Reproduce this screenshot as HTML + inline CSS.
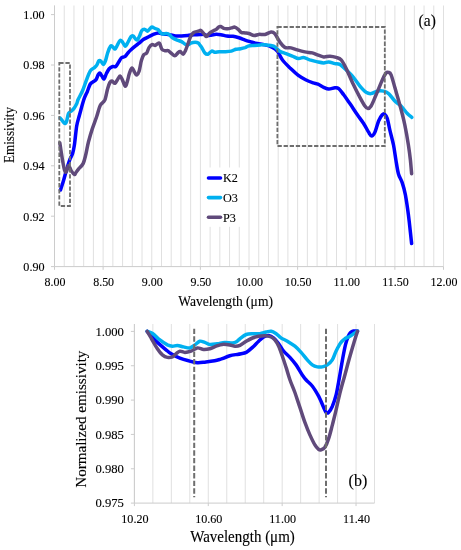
<!DOCTYPE html><html><head><meta charset="utf-8"><title>Emissivity</title><style>html,body{margin:0;padding:0;background:#fff}svg{display:block}text{font-family:"Liberation Serif",serif;fill:#000;stroke:#000;stroke-width:0.12px}</style></head><body>
<svg width="461" height="550" viewBox="0 0 461 550">
<rect width="461" height="550" fill="#fff"/>
<path d="M54.50,5.5 V266.6 M64.22,5.5 V266.6 M73.95,5.5 V266.6 M83.68,5.5 V266.6 M93.40,5.5 V266.6 M103.12,5.5 V266.6 M112.85,5.5 V266.6 M122.57,5.5 V266.6 M132.30,5.5 V266.6 M142.03,5.5 V266.6 M151.75,5.5 V266.6 M161.47,5.5 V266.6 M171.20,5.5 V266.6 M180.93,5.5 V266.6 M190.65,5.5 V266.6 M200.38,5.5 V266.6 M210.10,5.5 V266.6 M219.82,5.5 V266.6 M229.55,5.5 V266.6 M239.28,5.5 V266.6 M249.00,5.5 V266.6 M258.72,5.5 V266.6 M268.45,5.5 V266.6 M278.18,5.5 V266.6 M287.90,5.5 V266.6 M297.62,5.5 V266.6 M307.35,5.5 V266.6 M317.07,5.5 V266.6 M326.80,5.5 V266.6 M336.53,5.5 V266.6 M346.25,5.5 V266.6 M355.97,5.5 V266.6 M365.70,5.5 V266.6 M375.43,5.5 V266.6 M385.15,5.5 V266.6 M394.88,5.5 V266.6 M404.60,5.5 V266.6 M414.32,5.5 V266.6 M424.05,5.5 V266.6 M433.78,5.5 V266.6 M443.50,5.5 V266.6" stroke="#e0e0e0" stroke-width="1" fill="none"/>
<path d="M54.50,5.5 V266.6 M54.50,266.6 H443.50" stroke="#cccccc" stroke-width="1" fill="none"/>
<text transform="translate(44.60,18.90) scale(0.935,1)" font-size="13" text-anchor="end">1.00</text>
<text transform="translate(44.60,69.30) scale(0.935,1)" font-size="13" text-anchor="end">0.98</text>
<text transform="translate(44.60,119.70) scale(0.935,1)" font-size="13" text-anchor="end">0.96</text>
<text transform="translate(44.60,170.10) scale(0.935,1)" font-size="13" text-anchor="end">0.94</text>
<text transform="translate(44.60,220.50) scale(0.935,1)" font-size="13" text-anchor="end">0.92</text>
<text transform="translate(44.60,270.90) scale(0.935,1)" font-size="13" text-anchor="end">0.90</text>
<text transform="translate(55.00,286.40) scale(0.920,1)" font-size="13" text-anchor="middle">8.00</text>
<text transform="translate(103.62,286.40) scale(0.920,1)" font-size="13" text-anchor="middle">8.50</text>
<text transform="translate(152.25,286.40) scale(0.920,1)" font-size="13" text-anchor="middle">9.00</text>
<text transform="translate(200.88,286.40) scale(0.920,1)" font-size="13" text-anchor="middle">9.50</text>
<text transform="translate(249.50,286.40) scale(0.920,1)" font-size="13" text-anchor="middle">10.00</text>
<text transform="translate(298.12,286.40) scale(0.920,1)" font-size="13" text-anchor="middle">10.50</text>
<text transform="translate(346.75,286.40) scale(0.920,1)" font-size="13" text-anchor="middle">11.00</text>
<text transform="translate(395.38,286.40) scale(0.920,1)" font-size="13" text-anchor="middle">11.50</text>
<text transform="translate(444.00,286.40) scale(0.920,1)" font-size="13" text-anchor="middle">12.00</text>
<path d="M51.0,14.60 H54.5 M51.0,65.00 H54.5 M51.0,115.40 H54.5 M51.0,165.80 H54.5 M51.0,216.20 H54.5 M51.0,266.60 H54.5 M54.50,266.6 V269.8 M103.12,266.6 V269.8 M151.75,266.6 V269.8 M200.38,266.6 V269.8 M249.00,266.6 V269.8 M297.62,266.6 V269.8 M346.25,266.6 V269.8 M394.88,266.6 V269.8 M443.50,266.6 V269.8" stroke="#cccccc" stroke-width="1" fill="none"/>
<path d="M60.5,190.0C61.0,188.3 62.6,183.8 63.7,180.0C64.8,176.2 66.2,170.8 67.3,167.3C68.3,163.8 69.1,161.4 70.0,159.1C70.9,156.8 71.9,155.9 72.6,153.6C73.3,151.2 73.7,149.6 74.4,145.0C75.1,140.4 75.9,131.0 76.7,126.0C77.5,121.0 78.3,119.3 79.5,115.0C80.7,110.7 82.4,104.0 83.7,100.0C85.0,96.0 86.3,94.0 87.4,91.3C88.5,88.6 89.3,85.6 90.3,84.0C91.3,82.4 92.2,82.5 93.2,81.8C94.2,81.1 95.2,80.8 96.1,79.6C96.9,78.4 97.6,75.6 98.3,74.5C99.0,73.4 99.4,72.8 100.0,73.1C100.6,73.3 101.2,75.0 101.9,76.0C102.6,77.0 103.4,79.3 104.1,78.9C104.8,78.5 105.4,75.5 106.3,73.8C107.2,72.1 108.1,69.9 109.2,68.7C110.3,67.5 111.7,66.9 112.8,66.5C113.9,66.1 114.7,67.2 115.7,66.5C116.7,65.8 117.6,63.7 118.6,62.2C119.6,60.8 120.4,58.8 121.5,57.8C122.6,56.8 124.1,57.2 125.2,56.4C126.3,55.5 127.1,53.8 128.1,52.7C129.1,51.6 129.9,50.8 131.0,49.8C132.1,48.8 133.6,47.5 134.9,46.4C136.2,45.3 137.6,44.3 139.1,43.1C140.6,41.9 142.2,40.3 143.7,39.3C145.2,38.3 146.7,37.8 148.2,37.0C149.7,36.2 151.2,35.4 152.8,34.7C154.5,34.0 156.3,33.0 158.1,32.9C159.9,32.8 161.5,33.7 163.4,34.0C165.3,34.3 167.5,34.4 169.5,34.7C171.5,35.0 173.6,35.8 175.6,36.0C177.6,36.2 179.6,36.1 181.6,36.0C183.6,35.9 185.7,35.7 187.7,35.5C189.7,35.3 191.8,34.9 193.8,34.7C195.9,34.6 198.3,34.7 200.0,34.6C201.7,34.5 202.9,34.2 204.1,34.4C205.3,34.5 206.1,35.4 207.1,35.5C208.1,35.6 208.9,35.5 210.2,35.3C211.5,35.1 212.9,34.5 214.7,34.4C216.5,34.3 218.8,34.4 220.8,34.7C222.8,35.0 224.9,35.7 226.9,36.0C228.9,36.3 231.0,36.0 233.0,36.3C235.0,36.6 237.0,37.2 239.0,37.8C241.0,38.4 243.1,39.4 245.1,40.1C247.1,40.8 249.2,41.4 251.2,42.0C253.2,42.6 255.0,43.0 257.3,43.5C259.6,44.0 262.5,44.2 265.0,44.9C267.5,45.5 270.2,46.3 272.3,47.4C274.4,48.5 275.6,49.1 277.3,51.2C279.0,53.3 280.3,57.1 282.5,60.0C284.7,62.9 287.8,65.8 290.4,68.3C293.0,70.8 295.5,73.3 298.0,75.2C300.5,77.1 303.1,78.5 305.6,79.8C308.1,81.1 311.0,82.1 313.1,82.8C315.2,83.5 316.2,83.5 318.0,84.2C319.8,85.0 321.9,86.5 323.7,87.3C325.5,88.1 326.8,89.0 328.7,89.1C330.6,89.2 333.2,87.9 334.9,87.8C336.6,87.7 337.2,87.4 338.7,88.6C340.2,89.8 341.8,92.3 343.7,94.8C345.6,97.3 347.6,100.3 349.9,103.6C352.2,106.9 355.1,111.5 357.4,114.8C359.7,118.1 361.7,120.6 363.6,123.5C365.5,126.4 367.3,130.1 368.6,132.2C369.9,134.3 370.6,136.0 371.6,136.0C372.7,136.0 373.7,134.7 374.9,132.2C376.1,129.7 377.4,123.9 378.6,121.0C379.8,118.1 381.3,115.9 382.3,114.8C383.3,113.7 384.0,113.7 384.8,114.3C385.6,114.9 386.5,115.9 387.3,118.5C388.1,121.1 388.8,125.4 389.8,129.8C390.8,134.2 392.5,140.0 393.5,145.0C394.5,150.0 395.1,155.2 395.9,160.0C396.7,164.8 397.4,170.0 398.4,173.7C399.4,177.4 400.9,178.9 402.1,182.4C403.3,185.9 404.3,189.5 405.4,194.9C406.4,200.3 407.6,208.6 408.4,214.8C409.2,221.0 409.9,227.5 410.4,232.3C410.9,237.1 411.4,241.6 411.6,243.5" stroke="#0000FF" stroke-width="3.5" fill="none" stroke-linecap="round" stroke-linejoin="round"/>
<path d="M60.2,118.0C60.7,118.6 62.2,120.9 63.1,121.8C64.0,122.7 64.7,123.8 65.3,123.6C65.9,123.4 66.2,122.6 66.7,120.9C67.2,119.2 67.7,115.3 68.5,113.6C69.3,111.9 70.4,111.8 71.3,110.9C72.2,110.0 73.1,109.6 74.0,108.4C74.9,107.2 76.0,105.2 76.7,103.8C77.4,102.4 77.0,102.1 77.9,100.0C78.8,97.9 80.8,94.7 82.3,91.3C83.8,87.9 85.3,83.0 86.6,79.6C87.9,76.2 89.1,72.8 90.3,70.9C91.5,69.0 92.8,69.0 93.9,68.0C95.0,67.0 96.0,66.3 96.8,65.1C97.6,63.9 98.3,61.3 99.0,60.7C99.7,60.1 100.5,60.9 101.2,61.5C101.9,62.1 102.7,64.5 103.4,64.4C104.1,64.3 104.8,62.7 105.5,60.7C106.2,58.8 106.9,55.1 107.7,52.7C108.5,50.3 109.8,47.2 110.6,46.2C111.4,45.2 112.1,46.4 112.8,46.9C113.5,47.4 114.3,49.3 115.0,49.1C115.7,48.9 116.4,47.0 117.2,45.5C118.0,44.0 119.2,41.0 120.1,40.4C120.9,39.8 121.4,40.8 122.3,41.8C123.2,42.8 124.3,46.0 125.2,46.2C126.1,46.5 126.4,44.9 127.4,43.3C128.4,41.7 130.0,37.9 131.0,36.7C132.0,35.5 132.2,35.5 133.2,36.1C134.2,36.7 135.8,40.1 136.8,40.1C137.8,40.1 138.6,37.9 139.4,36.3C140.2,34.7 140.9,31.6 141.8,30.5C142.7,29.4 144.0,29.3 144.9,29.4C145.8,29.5 146.7,31.3 147.5,31.2C148.3,31.1 148.9,29.7 149.7,29.0C150.4,28.3 151.1,27.2 152.0,27.1C152.9,27.0 154.1,28.1 155.1,28.5C156.1,28.9 157.2,28.9 158.1,29.6C159.0,30.3 159.7,31.8 160.4,32.5C161.2,33.2 161.6,33.8 162.6,34.0C163.6,34.2 165.2,33.4 166.4,33.5C167.6,33.6 168.5,34.0 169.5,34.7C170.5,35.4 171.2,36.9 172.5,37.8C173.8,38.7 175.6,39.5 177.1,40.1C178.6,40.7 180.2,40.9 181.6,41.6C183.0,42.3 184.2,43.8 185.4,44.3C186.6,44.8 187.6,44.7 188.5,44.5C189.4,44.3 189.6,43.5 190.7,43.1C191.8,42.7 194.0,42.3 195.3,42.3C196.6,42.3 197.5,42.6 198.3,43.1C199.1,43.6 199.4,44.5 200.0,45.2C200.6,46.0 201.0,46.3 201.8,47.6C202.6,48.9 203.9,51.9 204.9,53.0C205.9,54.1 206.8,54.5 207.9,54.2C209.0,53.9 210.6,51.4 211.7,51.1C212.8,50.8 213.4,52.1 214.7,52.2C216.0,52.3 217.5,51.8 219.3,51.7C221.1,51.6 223.4,51.8 225.4,51.7C227.4,51.6 229.6,51.5 231.4,51.1C233.2,50.7 234.5,49.6 236.0,49.2C237.5,48.8 239.1,49.0 240.6,48.7C242.1,48.4 243.8,48.0 245.1,47.6C246.3,47.2 246.6,46.5 248.1,46.1C249.6,45.7 252.2,45.6 254.2,45.4C256.2,45.2 258.5,45.0 260.3,44.9C262.1,44.8 262.8,44.6 265.0,44.8C267.2,45.0 271.1,45.1 273.6,46.2C276.1,47.3 277.7,50.0 279.8,51.2C281.9,52.4 283.9,52.8 286.0,53.6C288.1,54.4 290.2,55.3 292.3,56.1C294.4,56.9 296.6,58.4 298.5,58.6C300.4,58.8 301.6,57.2 303.5,57.4C305.4,57.6 307.5,59.1 309.8,59.9C312.1,60.6 315.2,61.4 317.5,61.9C319.8,62.4 321.8,62.9 323.7,62.9C325.6,62.9 326.8,61.8 328.7,61.9C330.6,62.0 333.0,63.2 334.9,63.6C336.8,64.0 338.0,63.4 339.9,64.4C341.8,65.5 344.1,68.0 346.2,69.9C348.3,71.9 350.1,73.4 352.4,76.1C354.7,78.8 357.6,83.4 359.9,86.1C362.2,88.8 364.2,91.0 366.1,92.3C368.0,93.5 369.2,93.8 371.1,93.6C373.0,93.4 375.2,91.5 377.3,91.1C379.4,90.7 381.7,90.7 383.6,91.1C385.5,91.5 386.7,91.9 388.6,93.6C390.5,95.2 392.7,98.9 394.8,101.0C396.9,103.1 398.9,103.9 401.0,106.0C403.1,108.1 405.5,111.6 407.3,113.5C409.1,115.4 411.1,116.7 411.8,117.3" stroke="#00B0F0" stroke-width="3.5" fill="none" stroke-linecap="round" stroke-linejoin="round"/>
<path d="M59.8,142.7C60.2,145.3 61.4,153.6 62.2,158.2C63.0,162.8 63.8,167.7 64.5,170.0C65.2,172.3 65.7,172.6 66.4,171.8C67.1,171.1 67.7,165.7 68.5,165.5C69.3,165.3 70.3,169.4 71.3,170.9C72.3,172.4 73.7,174.2 74.4,174.5C75.2,174.8 75.1,173.6 75.8,172.7C76.5,171.8 77.3,170.6 78.5,169.1C79.7,167.6 81.9,166.0 83.1,163.6C84.3,161.2 84.9,158.1 85.8,154.5C86.7,150.9 87.4,146.0 88.5,141.8C89.6,137.6 90.8,133.3 92.2,129.1C93.6,124.9 95.4,120.4 96.7,116.5C98.0,112.6 98.9,108.2 100.2,105.5C101.5,102.8 103.5,102.8 104.8,100.0C106.0,97.2 106.8,91.3 107.7,88.4C108.6,85.5 109.2,83.7 109.9,82.5C110.6,81.3 111.2,81.0 112.1,81.1C112.9,81.2 114.0,83.7 115.0,83.3C116.0,82.9 117.1,80.1 117.9,78.9C118.8,77.7 119.4,75.9 120.1,76.0C120.8,76.1 121.4,77.9 122.3,79.6C123.2,81.3 124.3,86.0 125.2,86.2C126.1,86.5 126.7,83.3 127.4,81.1C128.1,78.9 128.7,75.3 129.5,73.1C130.3,70.9 131.1,68.0 132.0,68.0C132.9,68.0 134.1,71.7 134.9,72.9C135.7,74.1 136.1,75.3 136.8,75.0C137.5,74.7 138.3,73.6 139.1,71.2C139.9,68.8 140.6,63.3 141.4,60.6C142.2,57.9 142.8,56.1 143.7,54.8C144.6,53.5 145.8,54.2 146.7,53.0C147.6,51.8 148.1,49.0 149.0,47.6C149.9,46.2 151.0,45.0 152.0,44.6C153.0,44.2 154.2,45.5 155.1,45.4C156.0,45.3 156.6,44.1 157.3,43.8C158.1,43.5 158.8,42.6 159.6,43.5C160.4,44.4 161.0,48.0 161.9,49.2C162.8,50.4 163.9,50.5 164.9,50.7C165.9,51.0 167.0,50.3 168.0,50.7C169.0,51.1 169.9,52.2 171.0,53.0C172.1,53.8 173.7,55.7 174.8,55.7C175.9,55.7 176.9,53.7 177.8,53.0C178.7,52.3 179.2,51.2 180.1,51.4C181.0,51.6 182.2,54.3 183.1,54.2C184.0,54.1 184.5,52.7 185.4,50.7C186.3,48.7 187.6,44.7 188.5,42.3C189.4,39.9 189.8,37.9 190.7,36.3C191.6,34.7 192.7,33.3 193.8,32.5C195.0,31.7 196.6,31.7 197.6,31.4C198.6,31.1 199.5,30.8 200.0,30.6C200.5,30.5 200.2,30.1 200.8,30.5C201.4,30.9 202.5,32.2 203.4,33.2C204.3,34.2 205.4,36.6 206.4,36.6C207.4,36.6 208.3,34.2 209.4,33.2C210.5,32.2 212.0,31.5 213.2,30.9C214.3,30.3 215.4,30.0 216.3,29.4C217.2,28.8 217.8,27.6 218.5,27.1C219.2,26.6 219.9,26.3 220.8,26.5C221.7,26.7 222.7,28.0 223.8,28.4C224.9,28.8 226.3,28.8 227.6,28.7C228.9,28.6 230.2,28.2 231.4,27.9C232.6,27.6 233.7,26.9 234.8,27.1C236.0,27.4 237.2,28.5 238.3,29.4C239.4,30.3 240.2,31.9 241.3,32.5C242.4,33.1 243.8,32.7 245.1,32.9C246.4,33.1 247.4,33.1 248.9,33.5C250.4,33.9 252.5,35.4 254.2,35.5C255.8,35.6 257.0,34.6 258.8,34.4C260.6,34.2 262.9,34.9 265.0,34.5C267.1,34.1 269.5,32.1 271.1,32.0C272.7,31.9 273.4,32.1 274.8,33.7C276.2,35.4 278.1,39.6 279.8,41.9C281.5,44.2 282.9,46.4 284.8,47.4C286.7,48.4 288.9,47.5 291.0,47.9C293.1,48.3 295.0,49.2 297.3,49.9C299.6,50.6 302.3,51.4 304.8,51.9C307.3,52.4 310.2,52.4 312.3,52.9C314.4,53.4 315.6,54.2 317.5,54.9C319.4,55.6 321.6,56.7 323.7,56.9C325.8,57.1 327.9,56.1 330.0,56.2C332.1,56.3 334.3,56.8 336.2,57.4C338.1,58.0 339.5,58.0 341.2,59.9C342.9,61.8 344.3,64.8 346.2,68.6C348.1,72.3 350.1,77.6 352.4,82.4C354.7,87.2 357.8,93.4 359.9,97.3C362.0,101.2 363.6,104.1 364.9,106.0C366.2,107.9 366.9,108.5 367.9,108.5C368.9,108.5 369.7,108.3 371.1,106.0C372.5,103.7 374.2,99.1 376.1,94.8C378.0,90.5 380.6,83.6 382.3,79.9C384.0,76.2 385.1,74.2 386.1,72.9C387.2,71.7 387.8,72.1 388.6,72.4C389.4,72.7 390.1,72.4 391.1,74.9C392.1,77.4 393.4,82.3 394.8,87.3C396.2,92.3 398.1,98.5 399.8,104.8C401.5,111.0 403.4,118.1 404.8,124.8C406.2,131.5 407.5,139.1 408.4,145.0C409.3,150.9 409.9,155.2 410.4,160.0C410.9,164.8 411.4,171.4 411.6,173.7" stroke="#604A7B" stroke-width="3.5" fill="none" stroke-linecap="round" stroke-linejoin="round"/>
<rect x="59.3" y="63" width="10.7" height="143" fill="none" stroke="#6e6e6e" stroke-width="1.8" stroke-dasharray="4.3 1.8"/>
<rect x="277.4" y="27" width="107.4" height="119" fill="none" stroke="#6e6e6e" stroke-width="1.8" stroke-dasharray="4.3 1.8"/>
<rect x="203" y="167.5" width="40" height="59.3" fill="#fff"/>
<path d="M208.5,178.0 H220.5" stroke="#0000FF" stroke-width="3.6" stroke-linecap="round"/>
<text transform="translate(222.90,182.30) scale(0.920,1)" font-size="13.3" text-anchor="start">K2</text>
<path d="M208.5,197.6 H220.5" stroke="#00B0F0" stroke-width="3.6" stroke-linecap="round"/>
<text transform="translate(222.90,201.90) scale(0.920,1)" font-size="13.3" text-anchor="start">O3</text>
<path d="M208.5,217.3 H220.5" stroke="#604A7B" stroke-width="3.6" stroke-linecap="round"/>
<text transform="translate(222.90,221.60) scale(0.920,1)" font-size="13.3" text-anchor="start">P3</text>
<text transform="translate(418.60,25.50) scale(0.970,1)" font-size="16" text-anchor="start">(a)</text>
<text transform="translate(225.60,306.00) scale(0.905,1)" font-size="15" text-anchor="middle">Wavelength (μm)</text>
<text transform="translate(13.75,135.00) rotate(-90) scale(0.890,1)" font-size="14.7" text-anchor="middle">Emissivity</text>
<path d="M134.40,324.0 V503.1 M152.87,324.0 V503.1 M171.34,324.0 V503.1 M189.81,324.0 V503.1 M208.28,324.0 V503.1 M226.75,324.0 V503.1 M245.22,324.0 V503.1 M263.69,324.0 V503.1 M282.16,324.0 V503.1 M300.63,324.0 V503.1 M319.10,324.0 V503.1 M337.57,324.0 V503.1 M356.04,324.0 V503.1 M374.51,324.0 V503.1" stroke="#e0e0e0" stroke-width="1" fill="none"/>
<path d="M134.40,324.0 V503.1 M134.40,503.1 H374.51" stroke="#cccccc" stroke-width="1" fill="none"/>
<text transform="translate(123.90,335.60) scale(0.960,1)" font-size="13.2" text-anchor="end">1.000</text>
<text transform="translate(123.90,369.94) scale(0.960,1)" font-size="13.2" text-anchor="end">0.995</text>
<text transform="translate(123.90,404.28) scale(0.960,1)" font-size="13.2" text-anchor="end">0.990</text>
<text transform="translate(123.90,438.62) scale(0.960,1)" font-size="13.2" text-anchor="end">0.985</text>
<text transform="translate(123.90,472.96) scale(0.960,1)" font-size="13.2" text-anchor="end">0.980</text>
<text transform="translate(123.90,507.30) scale(0.960,1)" font-size="13.2" text-anchor="end">0.975</text>
<text transform="translate(134.90,523.10) scale(0.920,1)" font-size="13.2" text-anchor="middle">10.20</text>
<text transform="translate(208.78,523.10) scale(0.920,1)" font-size="13.2" text-anchor="middle">10.60</text>
<text transform="translate(282.66,523.10) scale(0.920,1)" font-size="13.2" text-anchor="middle">11.00</text>
<text transform="translate(356.54,523.10) scale(0.920,1)" font-size="13.2" text-anchor="middle">11.40</text>
<path d="M130.9,331.40 H134.4 M130.9,365.74 H134.4 M130.9,400.08 H134.4 M130.9,434.42 H134.4 M130.9,468.76 H134.4 M130.9,503.10 H134.4 M134.40,503.1 V506.1 M208.28,503.1 V506.1 M282.16,503.1 V506.1 M356.04,503.1 V506.1" stroke="#cccccc" stroke-width="1" fill="none"/>
<path d="M147.2,331.4C147.7,332.0 148.7,333.4 150.4,335.2C152.1,337.0 154.8,340.0 157.4,342.4C160.0,344.8 163.7,347.9 166.0,349.8C168.3,351.7 168.9,352.4 171.2,353.8C173.5,355.2 177.0,357.0 179.9,358.2C182.8,359.4 185.7,360.1 188.6,360.8C191.5,361.6 194.4,362.5 197.3,362.7C200.2,362.9 203.0,362.2 205.9,361.9C208.8,361.6 212.2,361.2 214.6,360.8C216.9,360.4 218.7,359.8 220.0,359.4C221.3,359.0 220.7,359.3 222.3,358.7C223.9,358.1 227.3,356.4 229.8,355.7C232.3,355.0 235.4,354.7 237.3,354.4C239.2,354.1 239.7,354.0 241.2,353.7C242.7,353.4 244.3,353.4 246.2,352.4C248.1,351.3 250.4,349.3 252.5,347.4C254.6,345.5 256.8,342.9 258.7,341.2C260.6,339.5 262.0,337.9 263.7,337.0C265.4,336.1 267.0,335.3 268.7,335.5C270.4,335.7 272.0,336.6 273.7,338.0C275.4,339.4 277.0,341.5 278.7,343.7C280.4,345.9 281.7,348.9 283.6,351.2C285.5,353.5 287.8,355.1 289.9,357.4C292.0,359.7 294.0,362.0 296.1,364.9C298.2,367.8 300.6,372.4 302.3,374.9C304.0,377.4 304.5,378.1 306.2,380.0C307.9,381.9 310.3,383.5 312.4,386.2C314.5,388.9 316.7,392.7 318.6,396.2C320.5,399.7 322.4,404.7 323.6,407.4C324.9,410.1 325.3,411.6 326.1,412.4C326.9,413.2 327.6,413.4 328.6,412.4C329.7,411.4 331.1,409.1 332.4,406.2C333.6,403.3 335.1,399.0 336.1,395.0C337.1,391.0 337.7,387.2 338.6,382.0C339.6,376.8 340.7,369.8 341.8,363.6C342.9,357.4 344.4,349.3 345.5,344.7C346.6,340.1 347.6,338.0 348.4,336.0C349.2,334.0 349.6,333.4 350.5,332.6C351.4,331.8 352.3,331.3 353.5,331.0C354.7,330.7 356.8,331.0 357.5,331.0" stroke="#0000FF" stroke-width="3.5" fill="none" stroke-linecap="round" stroke-linejoin="round"/>
<path d="M147.2,331.4C148.1,331.8 150.5,332.1 152.6,333.5C154.7,334.9 157.4,338.0 159.9,339.9C162.4,341.8 165.3,343.8 167.4,344.9C169.5,345.9 170.7,346.1 172.4,346.2C174.1,346.3 175.5,345.3 177.4,345.4C179.3,345.5 181.5,346.5 183.6,346.9C185.7,347.3 188.0,348.2 189.9,347.9C191.8,347.6 193.2,346.0 194.9,344.9C196.6,343.8 198.2,341.6 199.8,341.2C201.5,340.8 203.1,341.9 204.8,342.4C206.5,342.9 207.7,344.2 209.8,344.4C211.9,344.6 214.8,344.0 217.3,343.7C219.8,343.4 222.3,342.5 224.8,342.4C227.3,342.3 230.4,343.0 232.3,342.9C234.2,342.8 234.7,342.7 236.0,342.0C237.3,341.3 238.3,339.9 240.0,338.7C241.7,337.4 244.1,335.3 246.2,334.5C248.3,333.7 250.2,333.8 252.5,333.7C254.8,333.6 257.6,334.0 259.9,333.7C262.2,333.4 264.3,332.4 266.2,332.0C268.1,331.6 269.5,330.9 271.2,331.2C272.9,331.5 274.5,332.6 276.2,333.7C277.9,334.8 279.2,336.6 281.1,337.9C283.0,339.1 285.1,339.8 287.4,341.2C289.7,342.6 292.6,344.3 294.9,346.2C297.2,348.1 299.0,350.1 301.1,352.4C303.2,354.7 305.4,357.8 307.3,359.9C309.2,362.0 310.6,363.7 312.3,364.9C314.0,366.1 315.6,366.6 317.3,366.9C319.0,367.2 320.6,367.2 322.3,366.9C324.0,366.6 325.6,366.1 327.3,364.9C329.0,363.7 330.9,362.2 332.3,359.9C333.8,357.6 334.6,354.1 336.0,351.3C337.4,348.5 338.9,345.4 340.4,343.3C341.8,341.2 343.2,340.0 344.7,338.9C346.1,337.8 347.6,337.5 349.1,336.7C350.6,335.9 352.1,334.8 353.5,333.8C354.9,332.9 356.8,331.5 357.5,331.0" stroke="#00B0F0" stroke-width="3.5" fill="none" stroke-linecap="round" stroke-linejoin="round"/>
<path d="M147.2,331.4C147.9,332.6 149.7,335.6 151.4,338.5C153.1,341.4 155.6,346.0 157.4,348.7C159.2,351.4 160.7,353.4 162.4,354.9C164.1,356.3 165.7,357.1 167.4,357.4C169.1,357.7 171.0,357.5 172.4,356.9C173.8,356.3 174.8,354.6 176.1,353.7C177.3,352.8 178.4,351.4 179.9,351.2C181.4,351.0 183.0,352.4 184.9,352.4C186.8,352.4 189.0,351.9 191.1,351.2C193.2,350.4 195.2,348.2 197.3,347.9C199.4,347.6 201.5,349.3 203.6,349.4C205.7,349.5 207.7,349.2 209.8,348.7C211.9,348.2 214.0,346.9 216.1,346.2C218.2,345.5 220.0,344.6 222.3,344.4C224.6,344.2 227.7,344.6 229.8,344.9C231.9,345.2 233.3,346.1 235.0,346.2C236.7,346.3 238.1,346.2 240.0,345.4C241.9,344.6 244.1,342.4 246.2,341.2C248.3,340.0 250.4,338.8 252.5,338.0C254.6,337.2 256.6,336.6 258.7,336.2C260.8,335.8 262.8,335.6 264.9,335.7C267.0,335.8 269.5,336.3 271.2,337.0C272.9,337.7 273.6,338.4 274.9,339.9C276.1,341.4 277.4,343.5 278.7,346.2C279.9,348.9 281.2,352.7 282.4,356.2C283.6,359.7 284.8,363.4 286.1,367.4C287.4,371.4 288.5,375.8 290.0,380.0C291.5,384.2 293.2,387.9 294.9,392.5C296.5,397.1 298.2,402.4 299.9,407.4C301.6,412.4 303.2,417.8 304.9,422.4C306.6,427.0 308.2,431.1 309.9,434.9C311.6,438.6 313.4,442.5 314.9,444.9C316.3,447.3 317.6,448.5 318.6,449.3C319.6,450.1 320.1,450.1 321.1,449.8C322.2,449.5 323.6,449.2 324.9,447.3C326.1,445.4 327.4,442.3 328.6,438.6C329.9,434.9 331.1,429.7 332.4,424.9C333.6,420.1 334.9,415.1 336.1,409.9C337.3,404.7 338.5,399.0 339.8,393.7C341.1,388.4 342.4,383.9 344.0,378.2C345.6,372.5 347.4,365.4 349.1,359.3C350.8,353.2 352.8,346.5 354.2,341.8C355.6,337.1 356.9,333.1 357.5,331.4" stroke="#604A7B" stroke-width="3.5" fill="none" stroke-linecap="round" stroke-linejoin="round"/>
<path d="M194.2,328.7 V497.2 M326,328.7 V497.2" fill="none" stroke="#6e6e6e" stroke-width="2" stroke-dasharray="5.4 2.2"/>
<text x="348.6" y="486" font-size="16">(b)</text>
<text transform="translate(242.50,542.30) scale(0.955,1)" font-size="15.7" text-anchor="middle">Wavelength (μm)</text>
<text transform="translate(85.50,419.20) rotate(-90) scale(0.975,1)" font-size="15.5" text-anchor="middle">Normalized emissivity</text>
</svg></body></html>
